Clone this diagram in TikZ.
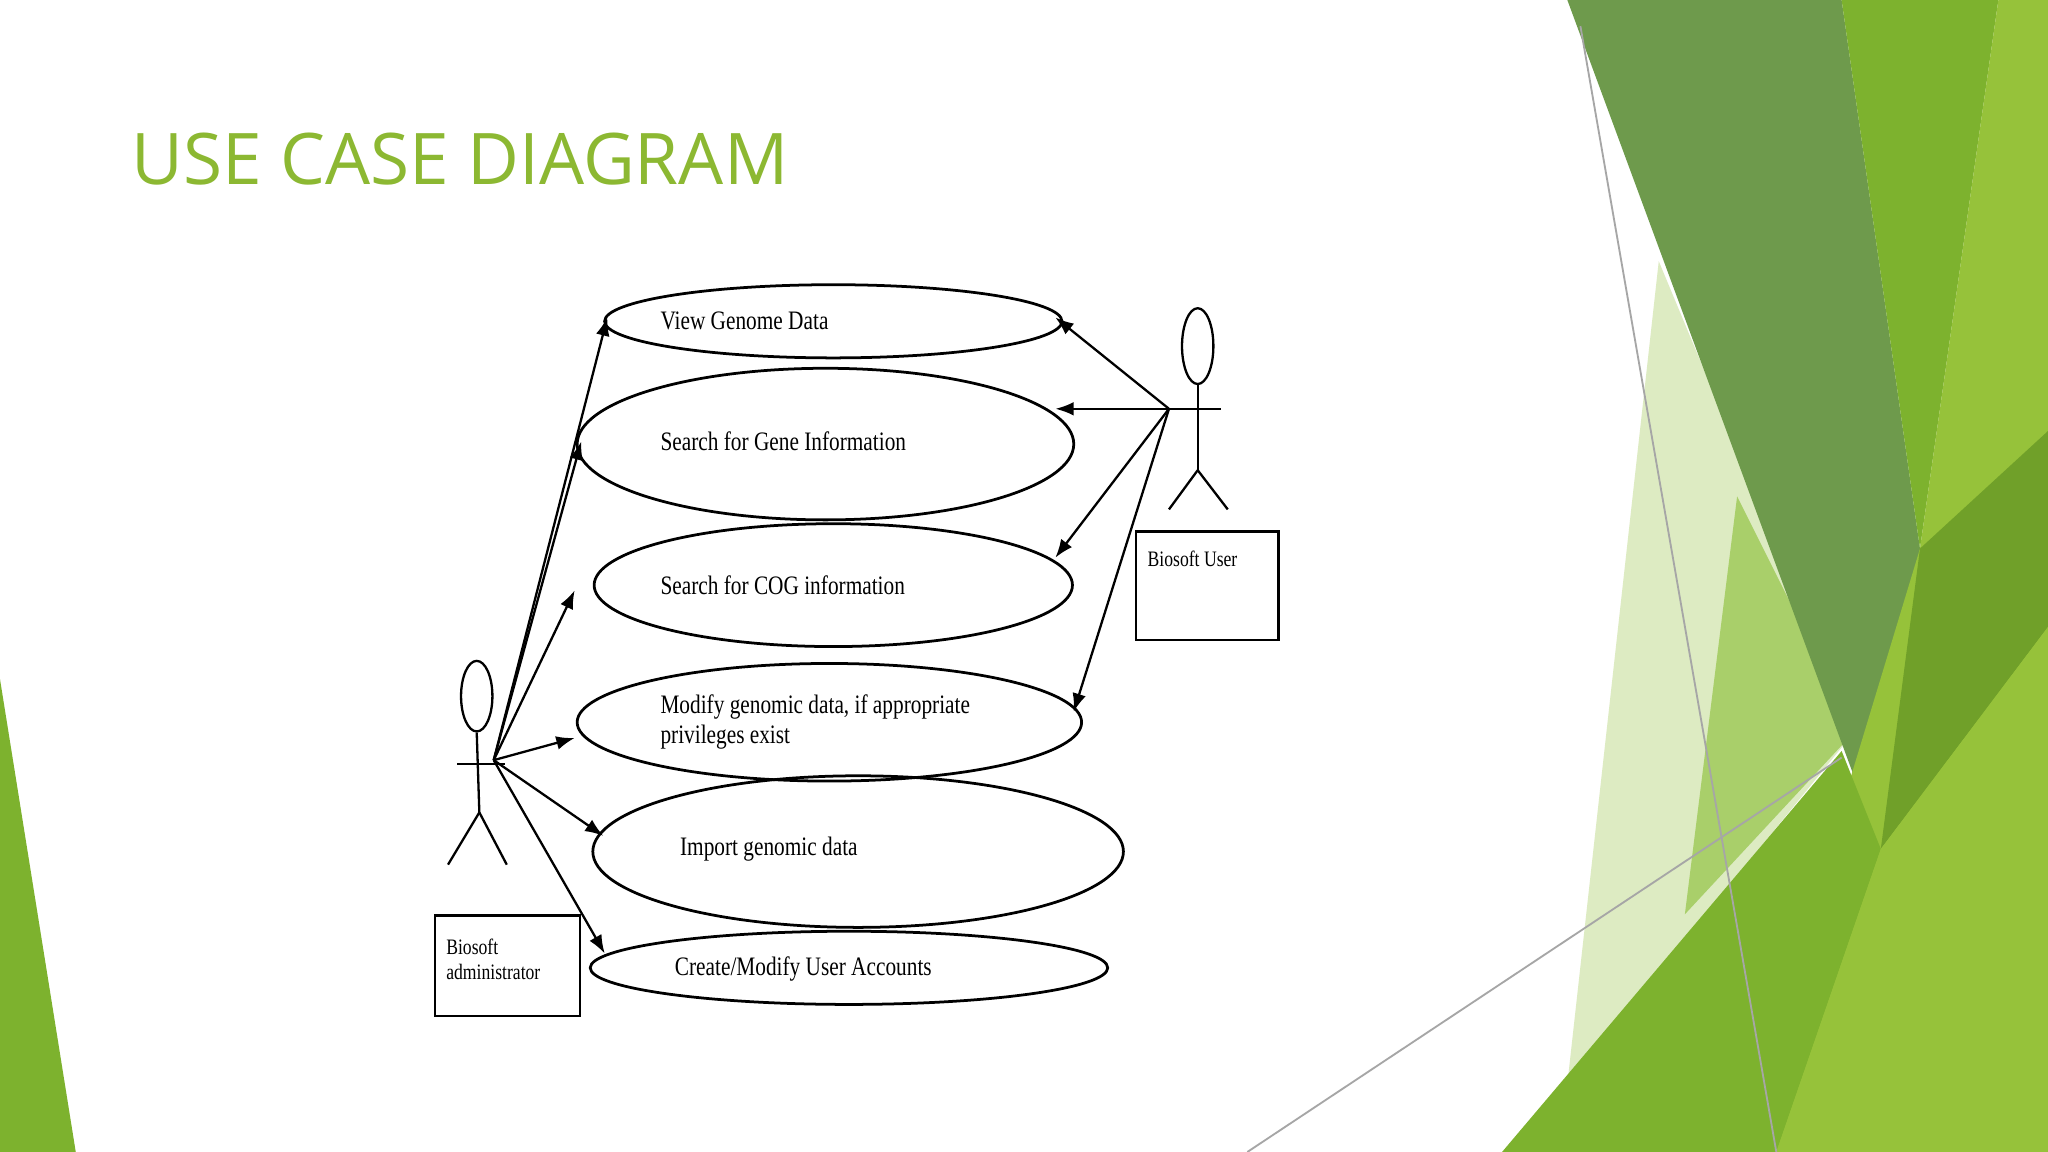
\documentclass[tikz,border=0pt]{standalone}
\usepackage{fontspec}
\setmainfont{Liberation Serif}
\newfontfamily\titlefont{Open Sans}
\newfontfamily\narrowserif[FakeStretch=0.8]{Liberation Serif}
\usetikzlibrary{shapes.geometric,arrows.meta}
\definecolor{tgreen}{HTML}{8CB832}
\definecolor{dgreen}{HTML}{6E9A4C}
\definecolor{bgreen}{HTML}{7DB22E}
\definecolor{lgreen}{HTML}{96C23A}
\definecolor{pgreen}{HTML}{DDEBC2}
\definecolor{mgreen}{HTML}{A9CF6A}
\tikzset{uc/.style={draw,ellipse,line width=0.6pt,inner sep=0pt},
 lab/.style={font=\narrowserif\fontsize{5.8}{6.6}\selectfont,align=left,anchor=west,inner sep=0pt},
 arr/.style={-{Latex[length=4pt,width=3pt]},line width=0.5pt},
 stick/.style={line width=0.5pt}}
\begin{document}
\begin{tikzpicture}[x=0.01cm,y=-0.01cm]
\useasboundingbox (0,0) rectangle (1568,882);
\fill[white] (0,0) rectangle (1568,882);
% background shapes
\fill[pgreen] (1270,200) -- (1420,560) -- (1200,830) -- cycle;
\fill[mgreen] (1330,380) -- (1420,560) -- (1290,700) -- cycle;
\fill[dgreen] (1200,0) -- (1410,0) -- (1470,420) -- (1440,650) -- cycle;
\fill[bgreen] (1410,0) -- (1530,0) -- (1470,420) -- cycle;
\fill[lgreen] (1530,0) -- (1568,0) -- (1568,882) -- (1330,882) -- (1470,420) -- cycle;
\fill[bgreen!90!black] (1470,420) -- (1568,330) -- (1568,480) -- (1440,650) -- cycle;
\fill[bgreen] (1150,882) -- (1410,575) -- (1440,650) -- (1360,882) -- cycle;
\fill[lgreen] (1360,882) -- (1440,650) -- (1568,480) -- (1568,882) -- cycle;
\fill[bgreen] (0,520) -- (0,882) -- (58,882) -- cycle;
\draw[gray!70,line width=0.4pt] (1210,20) -- (1360,882);
\draw[gray!70,line width=0.4pt] (955,882) -- (1410,580);
% title
\node[anchor=west,text=tgreen,font=\titlefont\fontsize{15.5}{18}\selectfont,inner sep=0pt] (title) at (100,122) {USE CASE DIAGRAM};
% use cases
\node[uc,minimum width=3.5cm,minimum height=0.56cm] (e1) at (638,246) {};
\node[uc,minimum width=3.8cm,minimum height=1.16cm] (e2) at (632,340) {};
\node[uc,minimum width=3.66cm,minimum height=0.94cm] (e3) at (638,448) {};
\node[uc,minimum width=3.86cm,minimum height=0.9cm] (e4) at (635,553) {};
\node[uc,minimum width=4.06cm,minimum height=1.16cm] (e5) at (657,652) {};
\node[uc,minimum width=3.96cm,minimum height=0.56cm] (e6) at (650,741) {};
\node[lab] (t1) at (505,246) {View Genome Data};
\node[lab] (t2) at (505,338) {Search for Gene Information};
\node[lab] (t3) at (505,448) {Search for COG information};
\node[lab] (t4) at (505,553) {Modify genomic data, if appropriate\\privileges exist};
\node[lab] (t5) at (520,650) {Import genomic data};
\node[lab] (t6) at (516,742) {Create/Modify User Accounts};
% admin actor
\node[draw,ellipse,stick,minimum width=0.24cm,minimum height=0.54cm,inner sep=0pt] (ah) at (365,533) {};
\draw[stick] (ah.south) -- (367,622) coordinate (ahip);
\draw[stick] (350,585) -- (387,585);
\draw[stick] (ahip) -- (343,662); \draw[stick] (ahip) -- (388,662);
\coordinate (ap) at (378,582);
\node[draw,stick,minimum width=1.11cm,minimum height=0.77cm,anchor=north west,inner sep=0pt] (abox) at (332,700) {};
\node[lab,anchor=north west,font=\narrowserif\fontsize{4.8}{5.6}\selectfont] (atext) at (341,718) {Biosoft\\administrator};
% user actor
\node[draw,ellipse,stick,minimum width=0.24cm,minimum height=0.58cm,inner sep=0pt] (uh) at (917,265) {};
\draw[stick] (uh.south) -- (917,360) coordinate (uhip);
\draw[stick] (895,313) -- (935,313);
\draw[stick] (uhip) -- (895,390); \draw[stick] (uhip) -- (940,390);
\coordinate (up) at (895,313);
\node[draw,stick,minimum width=1.09cm,minimum height=0.83cm,anchor=north west,inner sep=0pt] (ubox) at (869,406) {};
\node[lab,anchor=north west,font=\narrowserif\fontsize{4.8}{5.6}\selectfont] (utext) at (878,421) {Biosoft User};
% targets
\coordinate (a1) at (465,243); \coordinate (a2) at (445,338);
\coordinate (a3) at (440,452); \coordinate (a4) at (440,565);
\coordinate (a5) at (462,640); \coordinate (a6) at (463,730);
\coordinate (u1) at (808,243); \coordinate (u2) at (808,313);
\coordinate (u3) at (808,427); \coordinate (u4) at (822,545);
\foreach \t in {a1,a2,a3,a4,a5,a6} \draw[arr] (ap) -- (\t);
\foreach \t in {u1,u2,u3,u4} \draw[arr] (up) -- (\t);
\end{tikzpicture}
\end{document}
